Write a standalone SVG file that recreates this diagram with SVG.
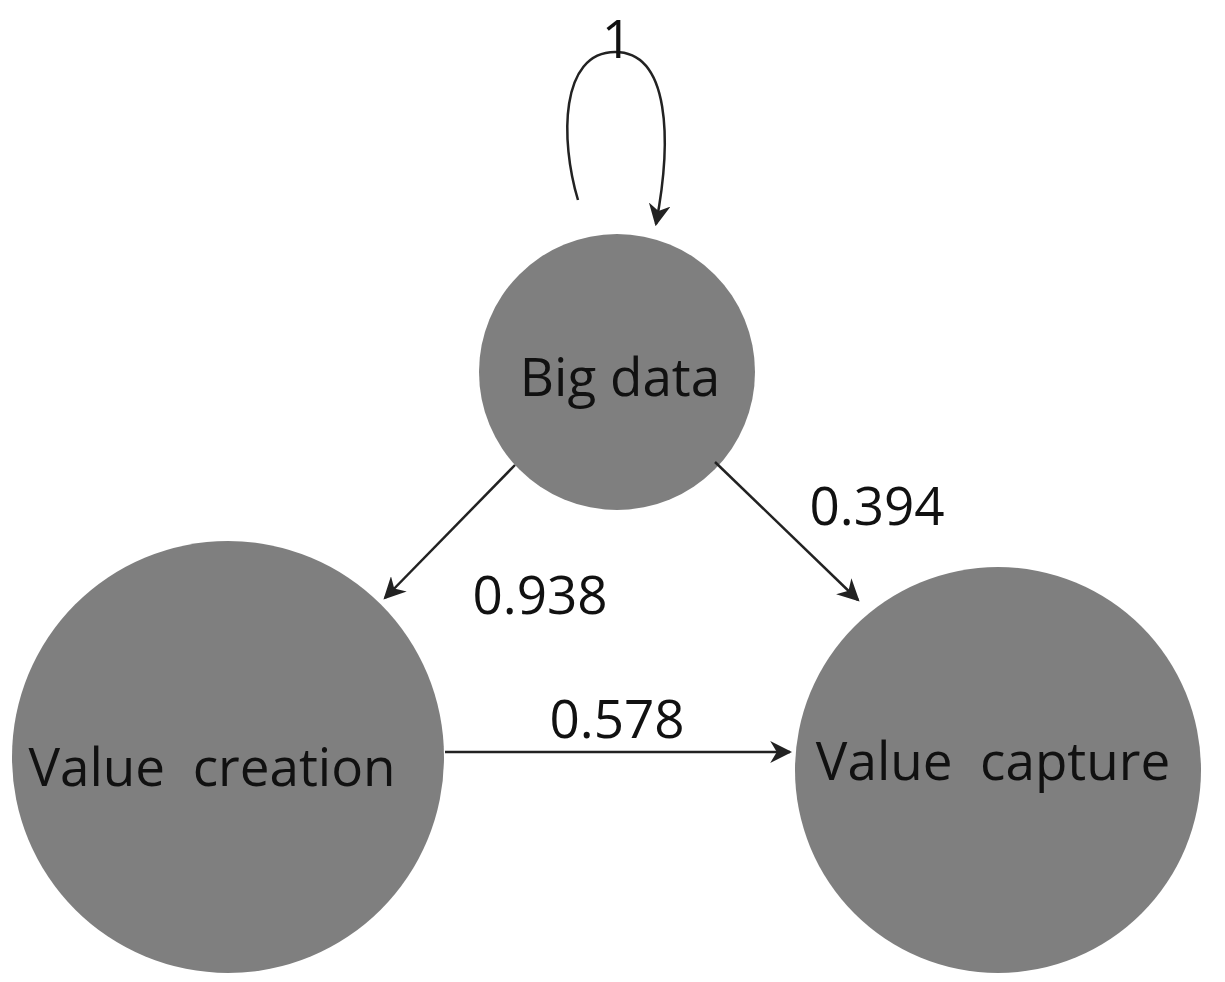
<svg xmlns="http://www.w3.org/2000/svg" width="1225" height="982" viewBox="0 0 1225 982">
<style>
.n{fill:#7f7f7f}
.t{font-family:"Open Sans","Liberation Sans",sans-serif;font-size:53px;fill:#111;text-anchor:middle}
.e{stroke:#222;stroke-width:2.5;fill:none;marker-end:url(#b)}
</style>
<defs><marker id="b" viewBox="0 0 10 10" refX="9" refY="5" markerWidth="22" markerHeight="22" markerUnits="userSpaceOnUse" orient="auto"><path d="M0,0 L10,5 L0,10 L3,5 Z" fill="#222"/></marker></defs>
<rect width="1225" height="982" fill="#fff"/>
<g id="big-data"><circle class="n" cx="617" cy="372" r="138"/><text class="t" x="620" y="396">Big data</text></g>
<g id="value-creation"><circle class="n" cx="228" cy="757" r="216"/><text class="t" x="212" y="786" xml:space="preserve">Value  creation</text></g>
<g id="value-capture"><circle class="n" cx="998" cy="770" r="203"/><text class="t" x="993" y="780" xml:space="preserve">Value  capture</text></g>
<g id="edges">
<path class="e" d="M578,200 C560,140 560,52 615,52 C670,52 672,140 656,224"/>
<path class="e" d="M515,465 L385,598"/>
<path class="e" d="M715,462 L858,600"/>
<path class="e" d="M445,752 L790,752"/>
<text class="t" x="617" y="58">1</text>
<text class="t" x="877" y="525">0.394</text>
<text class="t" x="540" y="614">0.938</text>
<text class="t" x="617" y="738">0.578</text>
</g>
</svg>
